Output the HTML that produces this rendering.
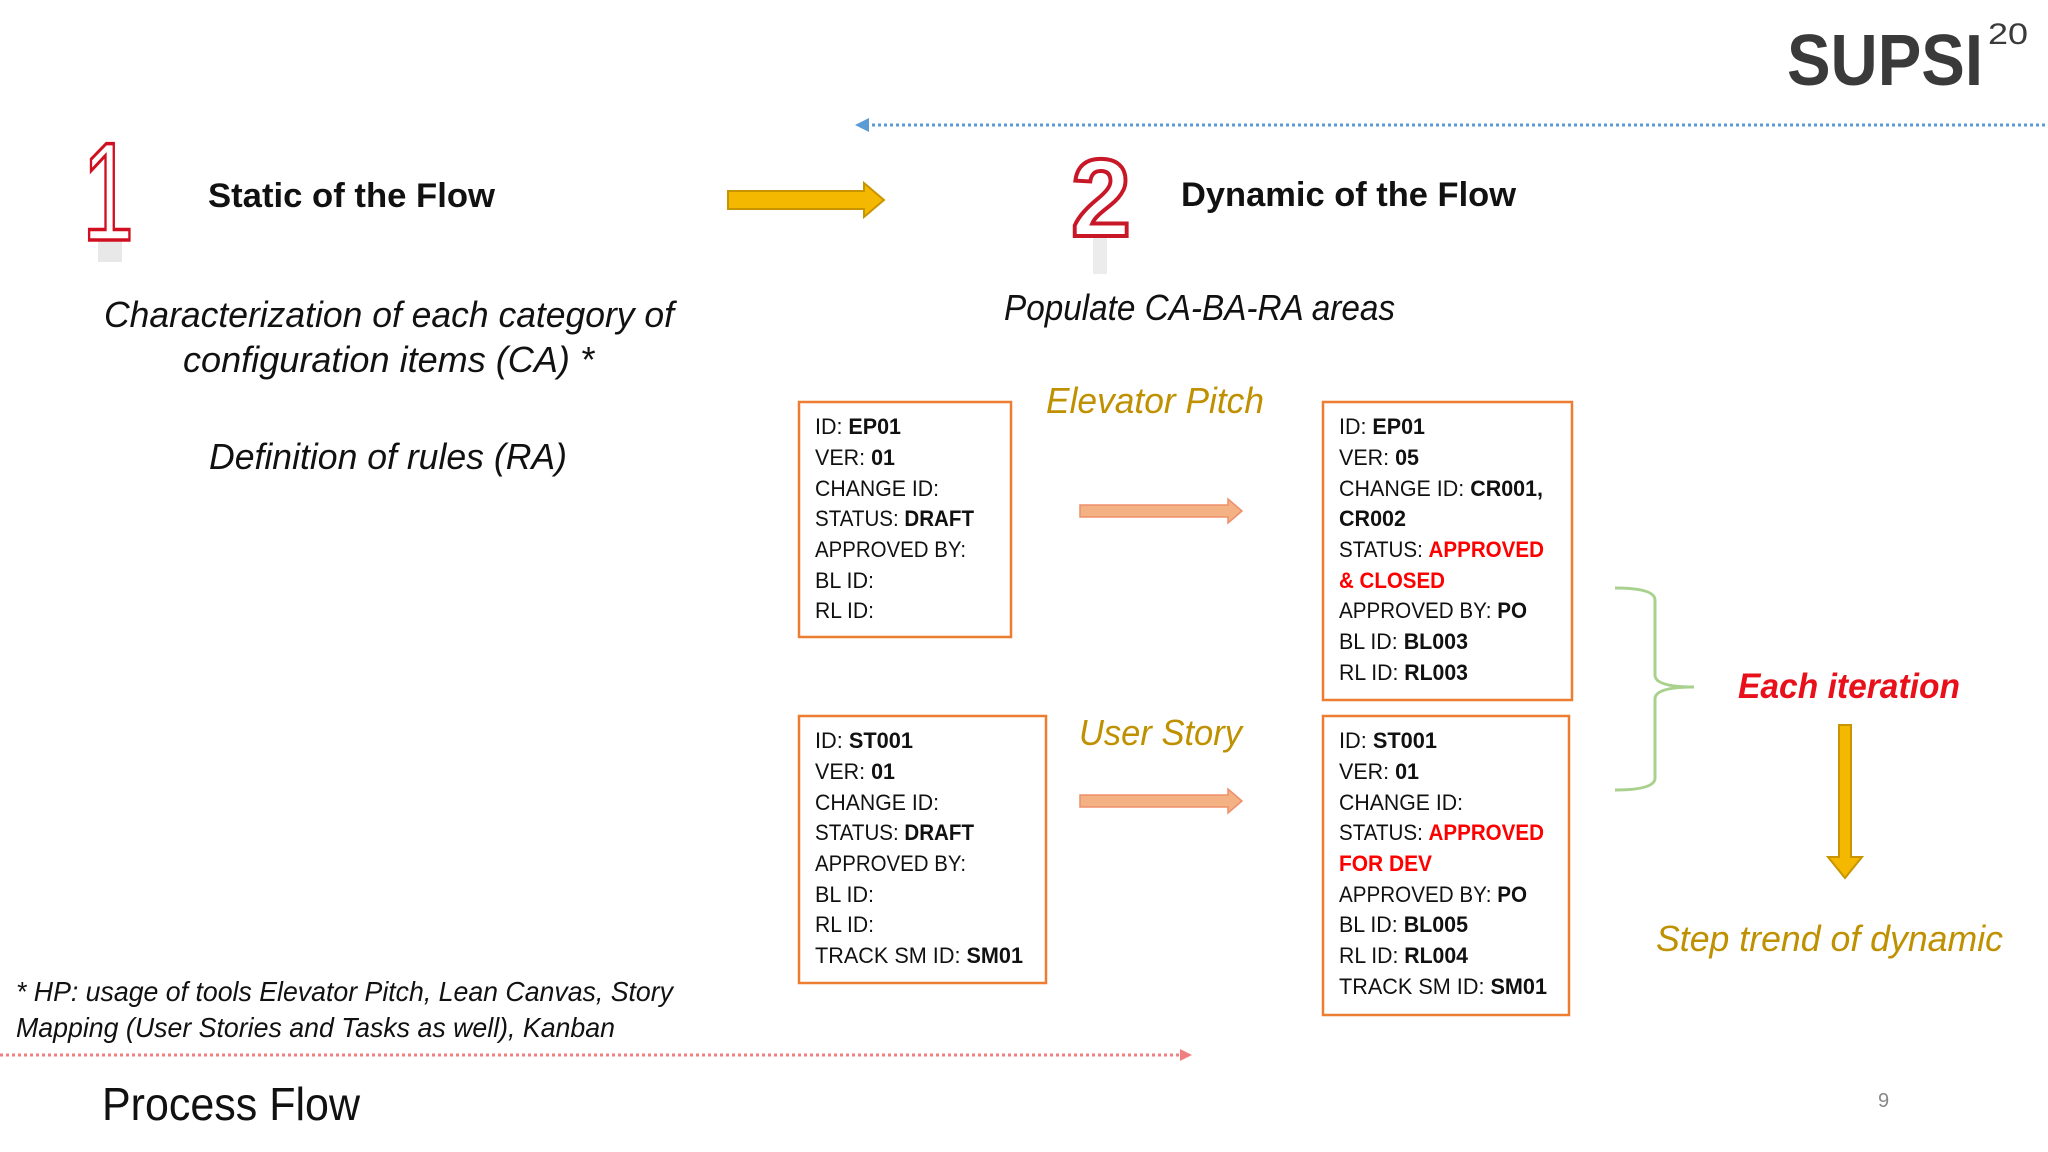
<!DOCTYPE html>
<html><head><meta charset="utf-8"><style>
html,body{margin:0;padding:0;background:#fff;}
svg{display:block;}
text{font-family:"Liberation Sans",sans-serif;}
</style></head><body>
<svg width="2048" height="1152" viewBox="0 0 2048 1152" xmlns="http://www.w3.org/2000/svg">
<rect width="2048" height="1152" fill="#fff"/>
<text x="1787" y="85" font-size="72" font-weight="bold" fill="#3a3a3a" textLength="196" lengthAdjust="spacingAndGlyphs">SUPSI</text>
<text x="1988" y="44" font-size="30" fill="#3a3a3a" textLength="40" lengthAdjust="spacingAndGlyphs">20</text>
<line x1="866" y1="125" x2="2048" y2="125" stroke="#5b9bd5" stroke-width="3" stroke-dasharray="3,3"/>
<polygon points="855,125 869,118 869,132" fill="#5b9bd5"/>
<!-- candle 1 -->
<rect x="98" y="238" width="24" height="24" fill="#e8e8e8"/>
<text x="108" y="240" font-size="140" font-family="Liberation Serif" text-anchor="middle" fill="#fff" stroke="#d01020" stroke-width="3.5" textLength="52" lengthAdjust="spacingAndGlyphs">1</text>
<!-- candle 2 -->
<rect x="1093" y="234" width="14" height="40" fill="#ececec"/>
<text x="1101" y="236" font-size="110" font-weight="bold" text-anchor="middle" fill="#fff" stroke="#c81828" stroke-width="4" textLength="60" lengthAdjust="spacingAndGlyphs">2</text>
<text x="208" y="207" font-size="34" font-weight="bold" fill="#111" textLength="287" lengthAdjust="spacingAndGlyphs">Static of the Flow</text>
<text x="1181" y="206" font-size="34" font-weight="bold" fill="#111" textLength="335" lengthAdjust="spacingAndGlyphs">Dynamic of the Flow</text>
<polygon points="728,191 864,191 864,183 884,200 864,217 864,209 728,209" fill="#f5b800" stroke="#c89400" stroke-width="2"/>
<g font-style="italic" font-size="36" fill="#111">
<text x="104" y="327" textLength="570" lengthAdjust="spacingAndGlyphs">Characterization of each category of</text>
<text x="183" y="372" textLength="411" lengthAdjust="spacingAndGlyphs">configuration items (CA) *</text>
<text x="209" y="469" textLength="358" lengthAdjust="spacingAndGlyphs">Definition of rules (RA)</text>
<text x="1004" y="320" textLength="391" lengthAdjust="spacingAndGlyphs">Populate CA-BA-RA areas</text>
</g>
<g font-style="italic" font-size="36" fill="#bf9000">
<text x="1046" y="413" textLength="218" lengthAdjust="spacingAndGlyphs">Elevator Pitch</text>
<text x="1079" y="745" textLength="163" lengthAdjust="spacingAndGlyphs">User Story</text>
<text x="1656" y="951" textLength="347" lengthAdjust="spacingAndGlyphs">Step trend of dynamic</text>
</g>
<text x="1738" y="698" font-size="35" font-style="italic" font-weight="bold" fill="#e8101a" textLength="222" lengthAdjust="spacingAndGlyphs">Each iteration</text>
<g fill="none" stroke="#ed7d31" stroke-width="2.5">
<rect x="799" y="402" width="212" height="235"/>
<rect x="1323" y="402" width="249" height="298"/>
<rect x="799" y="716" width="247" height="267"/>
<rect x="1323" y="716" width="246" height="299"/>
</g>
<g font-size="22" fill="#111">
<text x="815" y="434" textLength="86" lengthAdjust="spacingAndGlyphs">ID: <tspan font-weight="bold">EP01</tspan></text>
<text x="815" y="465" textLength="80" lengthAdjust="spacingAndGlyphs">VER: <tspan font-weight="bold">01</tspan></text>
<text x="815" y="496" textLength="124" lengthAdjust="spacingAndGlyphs">CHANGE ID:</text>
<text x="815" y="526" textLength="159" lengthAdjust="spacingAndGlyphs">STATUS: <tspan font-weight="bold">DRAFT</tspan></text>
<text x="815" y="557" textLength="151" lengthAdjust="spacingAndGlyphs">APPROVED BY:</text>
<text x="815" y="588" textLength="59" lengthAdjust="spacingAndGlyphs">BL ID:</text>
<text x="815" y="618" textLength="59" lengthAdjust="spacingAndGlyphs">RL ID:</text>
<text x="1339" y="434" textLength="86" lengthAdjust="spacingAndGlyphs">ID: <tspan font-weight="bold">EP01</tspan></text>
<text x="1339" y="465" textLength="80" lengthAdjust="spacingAndGlyphs">VER: <tspan font-weight="bold">05</tspan></text>
<text x="1339" y="496" textLength="204" lengthAdjust="spacingAndGlyphs">CHANGE ID: <tspan font-weight="bold">CR001,</tspan></text>
<text x="1339" y="526" font-weight="bold" textLength="67" lengthAdjust="spacingAndGlyphs">CR002</text>
<text x="1339" y="557" textLength="205" lengthAdjust="spacingAndGlyphs">STATUS: <tspan font-weight="bold" fill="#ff0000">APPROVED</tspan></text>
<text x="1339" y="588" font-weight="bold" fill="#ff0000" textLength="106" lengthAdjust="spacingAndGlyphs">&amp; CLOSED</text>
<text x="1339" y="618" textLength="188" lengthAdjust="spacingAndGlyphs">APPROVED BY: <tspan font-weight="bold">PO</tspan></text>
<text x="1339" y="649" textLength="129" lengthAdjust="spacingAndGlyphs">BL ID: <tspan font-weight="bold">BL003</tspan></text>
<text x="1339" y="680" textLength="129" lengthAdjust="spacingAndGlyphs">RL ID: <tspan font-weight="bold">RL003</tspan></text>
<text x="815" y="748" textLength="98" lengthAdjust="spacingAndGlyphs">ID: <tspan font-weight="bold">ST001</tspan></text>
<text x="815" y="779" textLength="80" lengthAdjust="spacingAndGlyphs">VER: <tspan font-weight="bold">01</tspan></text>
<text x="815" y="810" textLength="124" lengthAdjust="spacingAndGlyphs">CHANGE ID:</text>
<text x="815" y="840" textLength="159" lengthAdjust="spacingAndGlyphs">STATUS: <tspan font-weight="bold">DRAFT</tspan></text>
<text x="815" y="871" textLength="151" lengthAdjust="spacingAndGlyphs">APPROVED BY:</text>
<text x="815" y="902" textLength="59" lengthAdjust="spacingAndGlyphs">BL ID:</text>
<text x="815" y="932" textLength="59" lengthAdjust="spacingAndGlyphs">RL ID:</text>
<text x="815" y="963" textLength="208" lengthAdjust="spacingAndGlyphs">TRACK SM ID: <tspan font-weight="bold">SM01</tspan></text>
<text x="1339" y="748" textLength="98" lengthAdjust="spacingAndGlyphs">ID: <tspan font-weight="bold">ST001</tspan></text>
<text x="1339" y="779" textLength="80" lengthAdjust="spacingAndGlyphs">VER: <tspan font-weight="bold">01</tspan></text>
<text x="1339" y="810" textLength="124" lengthAdjust="spacingAndGlyphs">CHANGE ID:</text>
<text x="1339" y="840" textLength="205" lengthAdjust="spacingAndGlyphs">STATUS: <tspan font-weight="bold" fill="#ff0000">APPROVED</tspan></text>
<text x="1339" y="871" font-weight="bold" fill="#ff0000" textLength="93" lengthAdjust="spacingAndGlyphs">FOR DEV</text>
<text x="1339" y="902" textLength="188" lengthAdjust="spacingAndGlyphs">APPROVED BY: <tspan font-weight="bold">PO</tspan></text>
<text x="1339" y="932" textLength="129" lengthAdjust="spacingAndGlyphs">BL ID: <tspan font-weight="bold">BL005</tspan></text>
<text x="1339" y="963" textLength="129" lengthAdjust="spacingAndGlyphs">RL ID: <tspan font-weight="bold">RL004</tspan></text>
<text x="1339" y="994" textLength="208" lengthAdjust="spacingAndGlyphs">TRACK SM ID: <tspan font-weight="bold">SM01</tspan></text>
</g>
<g fill="#f4b183" stroke="#ee8f6a" stroke-width="1.5">
<polygon points="1080,505 1228,505 1228,499 1242,511 1228,523 1228,517 1080,517"/>
<polygon points="1080,795 1228,795 1228,789 1242,801 1228,813 1228,807 1080,807"/>
</g>
<path d="M1615,588 Q1655,588 1655,600 L1655,675 Q1655,687 1694,687 Q1655,687 1655,699 L1655,778 Q1655,790 1615,790" fill="none" stroke="#a9d18e" stroke-width="3"/>
<polygon points="1839,725 1851,725 1851,857 1862,857 1845,878 1828,857 1839,857" fill="#f5b800" stroke="#c89400" stroke-width="2"/>
<g font-style="italic" font-size="28" fill="#111">
<text x="16" y="1001" textLength="657" lengthAdjust="spacingAndGlyphs">* HP: usage of tools Elevator Pitch, Lean Canvas, Story</text>
<text x="16" y="1037" textLength="599" lengthAdjust="spacingAndGlyphs">Mapping (User Stories and Tasks as well), Kanban</text>
</g>
<line x1="0" y1="1055" x2="1180" y2="1055" stroke="#f08080" stroke-width="3" stroke-dasharray="3,3"/>
<polygon points="1192,1055 1180,1049 1180,1061" fill="#f08080"/>
<text x="102" y="1120" font-size="46" fill="#111" textLength="258" lengthAdjust="spacingAndGlyphs">Process Flow</text>
<text x="1878" y="1107" font-size="20" fill="#888">9</text>
</svg>
</body></html>
